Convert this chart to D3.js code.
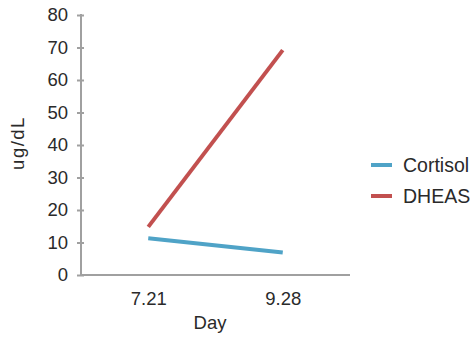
<!DOCTYPE html>
<html><head><meta charset="utf-8">
<script src="https://cdn.jsdelivr.net/npm/d3@7"></script>
<style>
html,body{margin:0;padding:0;background:#fff;}
svg{display:block;}
text{font-family:"Liberation Sans",Arial,sans-serif;fill:#2a2a2a;}
</style></head>
<body>
<svg id="chart" width="474" height="341"></svg>
<script>
const days = ["7.21", "9.28"];
const cortisol = [11.3, 6.9];
const dheas = [14.8, 69.2];
const seriesNames = ["Cortisol", "DHEAS"];
const seriesColors = ["#4fa3c7", "#c2504f"];
const yTicks = [0, 10, 20, 30, 40, 50, 60, 70, 80];

(function () {
const series = [
  {name: seriesNames[0], values: cortisol, color: seriesColors[0]},
  {name: seriesNames[1], values: dheas, color: seriesColors[1]}
];

const svg = d3.select("#chart");
const mLeft = 81, mRight = 350, mTop = 15, mBottom = 275;
const fs = 18.5;

const x = d3.scalePoint().domain(days).range([mLeft, mRight]).padding(0.5);
const y = d3.scaleLinear().domain([0, 80]).range([mBottom, mTop]);

// y axis
const yAxis = svg.append("g").attr("transform", `translate(${mLeft},0)`)
  .call(d3.axisLeft(y).tickValues(yTicks).tickSize(4).tickPadding(9));
yAxis.select(".domain").remove();
yAxis.selectAll(".tick line").attr("x2", -4).attr("x1", 3).attr("stroke", "#a0a0a0").attr("stroke-width", 2);
yAxis.selectAll(".tick text").attr("font-size", fs).attr("fill", "#2a2a2a").style("font-family", "Liberation Sans, Arial, sans-serif");
svg.append("line").attr("x1", mLeft).attr("x2", mLeft).attr("y1", mTop - 1).attr("y2", mBottom + 1)
  .attr("stroke", "#a0a0a0").attr("stroke-width", 2);

// x axis
const xAxis = svg.append("g").attr("transform", `translate(0,${mBottom})`)
  .call(d3.axisBottom(x).tickSize(0).tickPadding(17));
xAxis.select(".domain").remove();
xAxis.selectAll(".tick text").attr("font-size", fs).attr("fill", "#2a2a2a").style("font-family", "Liberation Sans, Arial, sans-serif");
svg.append("line").attr("x1", mLeft - 1).attr("x2", mRight).attr("y1", mBottom).attr("y2", mBottom)
  .attr("stroke", "#a0a0a0").attr("stroke-width", 2);

// axis titles
svg.append("text").attr("x", 210).attr("y", 329)
  .attr("text-anchor", "middle").attr("font-size", fs).text("Day");
svg.append("text").attr("transform", "translate(24,143) rotate(-90)")
  .attr("text-anchor", "middle").attr("font-size", fs).attr("letter-spacing", 1.5).text("ug/dL");

// lines
const line = d3.line().x((d, i) => x(days[i])).y(d => y(d));
series.forEach(s => {
  svg.append("path").attr("d", line(s.values)).attr("fill", "none")
    .attr("stroke", s.color).attr("stroke-width", 4);
});

// legend
const lg = svg.append("g");
series.forEach((s, i) => {
  const ly = 165 + i * 31;
  lg.append("line").attr("x1", 371).attr("x2", 392).attr("y1", ly).attr("y2", ly)
    .attr("stroke", s.color).attr("stroke-width", 4);
  lg.append("text").attr("x", 403).attr("y", ly).attr("dy", "0.35em")
    .attr("font-size", 19.5).text(s.name);
});
})();
</script>
</body></html>
